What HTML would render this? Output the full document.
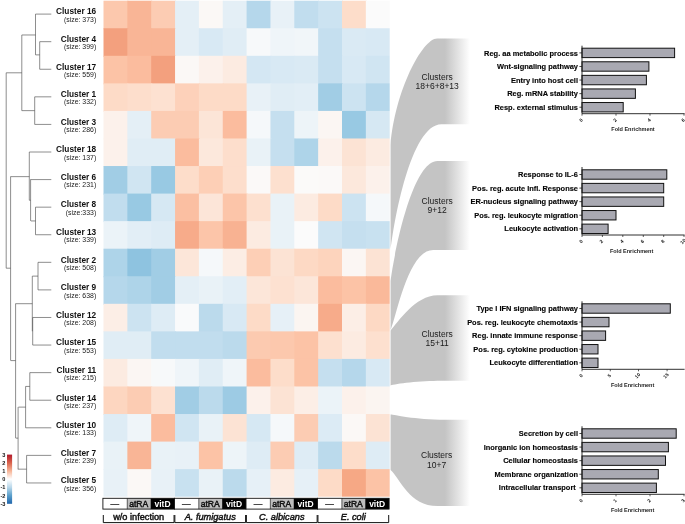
<!DOCTYPE html>
<html><head><meta charset="utf-8"><title>Cluster heatmap</title>
<style>html,body{margin:0;padding:0;background:#fff}body{width:685px;height:524px;overflow:hidden}svg{display:block}text{font-family:"Liberation Sans",Arial,Helvetica,sans-serif}</style></head><body>
<svg width="685" height="524" viewBox="0 0 685 524">
<defs>
<linearGradient id="fade" gradientUnits="userSpaceOnUse" x1="445" y1="0" x2="470" y2="0"><stop offset="0" stop-color="#c4c4c4"/><stop offset="1" stop-color="#ffffff"/></linearGradient>
<linearGradient id="leg" x1="0" y1="0" x2="0" y2="1">
<stop offset="0.0000" stop-color="#b2182b"/>
<stop offset="0.1667" stop-color="#d9634c"/>
<stop offset="0.3333" stop-color="#f7b598"/>
<stop offset="0.5000" stop-color="#ffffff"/>
<stop offset="0.6667" stop-color="#b8d7ea"/>
<stop offset="0.8333" stop-color="#5a9fcb"/>
<stop offset="1.0000" stop-color="#2166ac"/>
</linearGradient>
</defs>
<rect width="685" height="524" fill="#fff"/>
<g>
<rect x="103.50" y="0.70" width="24.85" height="28.56" fill="#fcc8ad"/>
<rect x="127.35" y="0.70" width="24.85" height="28.56" fill="#f9b596"/>
<rect x="151.20" y="0.70" width="24.85" height="28.56" fill="#fcccb3"/>
<rect x="175.05" y="0.70" width="24.85" height="28.56" fill="#e4eff6"/>
<rect x="198.90" y="0.70" width="24.85" height="28.56" fill="#fbf8f6"/>
<rect x="222.75" y="0.70" width="24.85" height="28.56" fill="#e4eff6"/>
<rect x="246.60" y="0.70" width="24.85" height="28.56" fill="#b5d7eb"/>
<rect x="270.45" y="0.70" width="24.85" height="28.56" fill="#e8f1f7"/>
<rect x="294.30" y="0.70" width="24.85" height="28.56" fill="#c1ddee"/>
<rect x="318.15" y="0.70" width="24.85" height="28.56" fill="#cce3f1"/>
<rect x="342.00" y="0.70" width="24.85" height="28.56" fill="#fdddca"/>
<rect x="365.85" y="0.70" width="24.85" height="28.56" fill="#fbfbfb"/>
<rect x="103.50" y="28.26" width="24.85" height="28.56" fill="#f3a07e"/>
<rect x="127.35" y="28.26" width="24.85" height="28.56" fill="#f9b596"/>
<rect x="151.20" y="28.26" width="24.85" height="28.56" fill="#f9b596"/>
<rect x="175.05" y="28.26" width="24.85" height="28.56" fill="#e4eff6"/>
<rect x="198.90" y="28.26" width="24.85" height="28.56" fill="#d8e9f4"/>
<rect x="222.75" y="28.26" width="24.85" height="28.56" fill="#e0edf5"/>
<rect x="246.60" y="28.26" width="24.85" height="28.56" fill="#f7f9fa"/>
<rect x="270.45" y="28.26" width="24.85" height="28.56" fill="#eff5f9"/>
<rect x="294.30" y="28.26" width="24.85" height="28.56" fill="#f1f6f9"/>
<rect x="318.15" y="28.26" width="24.85" height="28.56" fill="#c5dfef"/>
<rect x="342.00" y="28.26" width="24.85" height="28.56" fill="#daeaf4"/>
<rect x="365.85" y="28.26" width="24.85" height="28.56" fill="#d8e9f4"/>
<rect x="103.50" y="55.81" width="24.85" height="28.56" fill="#fcc3a6"/>
<rect x="127.35" y="55.81" width="24.85" height="28.56" fill="#fbbc9e"/>
<rect x="151.20" y="55.81" width="24.85" height="28.56" fill="#f3a07e"/>
<rect x="175.05" y="55.81" width="24.85" height="28.56" fill="#fbf8f6"/>
<rect x="198.90" y="55.81" width="24.85" height="28.56" fill="#fcf1eb"/>
<rect x="222.75" y="55.81" width="24.85" height="28.56" fill="#fcebe1"/>
<rect x="246.60" y="55.81" width="24.85" height="28.56" fill="#d4e7f3"/>
<rect x="270.45" y="55.81" width="24.85" height="28.56" fill="#d8e9f4"/>
<rect x="294.30" y="55.81" width="24.85" height="28.56" fill="#daeaf4"/>
<rect x="318.15" y="55.81" width="24.85" height="28.56" fill="#c5dfef"/>
<rect x="342.00" y="55.81" width="24.85" height="28.56" fill="#d8e9f4"/>
<rect x="365.85" y="55.81" width="24.85" height="28.56" fill="#d0e5f2"/>
<rect x="103.50" y="83.37" width="24.85" height="28.56" fill="#fddbc7"/>
<rect x="127.35" y="83.37" width="24.85" height="28.56" fill="#fddecc"/>
<rect x="151.20" y="83.37" width="24.85" height="28.56" fill="#fde1d1"/>
<rect x="175.05" y="83.37" width="24.85" height="28.56" fill="#fdd1ba"/>
<rect x="198.90" y="83.37" width="24.85" height="28.56" fill="#fddbc7"/>
<rect x="222.75" y="83.37" width="24.85" height="28.56" fill="#fddbc7"/>
<rect x="246.60" y="83.37" width="24.85" height="28.56" fill="#e8f1f7"/>
<rect x="270.45" y="83.37" width="24.85" height="28.56" fill="#e0edf5"/>
<rect x="294.30" y="83.37" width="24.85" height="28.56" fill="#e2eef6"/>
<rect x="318.15" y="83.37" width="24.85" height="28.56" fill="#a1cde5"/>
<rect x="342.00" y="83.37" width="24.85" height="28.56" fill="#cce3f1"/>
<rect x="365.85" y="83.37" width="24.85" height="28.56" fill="#b5d7eb"/>
<rect x="103.50" y="110.92" width="24.85" height="28.56" fill="#fcf1eb"/>
<rect x="127.35" y="110.92" width="24.85" height="28.56" fill="#e4eff6"/>
<rect x="151.20" y="110.92" width="24.85" height="28.56" fill="#fcccb3"/>
<rect x="175.05" y="110.92" width="24.85" height="28.56" fill="#fcccb3"/>
<rect x="198.90" y="110.92" width="24.85" height="28.56" fill="#fce5d7"/>
<rect x="222.75" y="110.92" width="24.85" height="28.56" fill="#fbbc9e"/>
<rect x="246.60" y="110.92" width="24.85" height="28.56" fill="#f5f8fa"/>
<rect x="270.45" y="110.92" width="24.85" height="28.56" fill="#c5dfef"/>
<rect x="294.30" y="110.92" width="24.85" height="28.56" fill="#edf4f8"/>
<rect x="318.15" y="110.92" width="24.85" height="28.56" fill="#fbf6f3"/>
<rect x="342.00" y="110.92" width="24.85" height="28.56" fill="#98c9e3"/>
<rect x="365.85" y="110.92" width="24.85" height="28.56" fill="#d6e8f3"/>
<rect x="103.50" y="138.48" width="24.85" height="28.56" fill="#fcf1eb"/>
<rect x="127.35" y="138.48" width="24.85" height="28.56" fill="#e0edf5"/>
<rect x="151.20" y="138.48" width="24.85" height="28.56" fill="#e0edf5"/>
<rect x="175.05" y="138.48" width="24.85" height="28.56" fill="#fbbc9e"/>
<rect x="198.90" y="138.48" width="24.85" height="28.56" fill="#fce8dc"/>
<rect x="222.75" y="138.48" width="24.85" height="28.56" fill="#fddecc"/>
<rect x="246.60" y="138.48" width="24.85" height="28.56" fill="#e9f2f7"/>
<rect x="270.45" y="138.48" width="24.85" height="28.56" fill="#c5dfef"/>
<rect x="294.30" y="138.48" width="24.85" height="28.56" fill="#aed4e9"/>
<rect x="318.15" y="138.48" width="24.85" height="28.56" fill="#fcf1eb"/>
<rect x="342.00" y="138.48" width="24.85" height="28.56" fill="#fce3d4"/>
<rect x="365.85" y="138.48" width="24.85" height="28.56" fill="#fcebe1"/>
<rect x="103.50" y="166.03" width="24.85" height="28.56" fill="#a1cde5"/>
<rect x="127.35" y="166.03" width="24.85" height="28.56" fill="#d0e5f2"/>
<rect x="151.20" y="166.03" width="24.85" height="28.56" fill="#98c9e3"/>
<rect x="175.05" y="166.03" width="24.85" height="28.56" fill="#fdddca"/>
<rect x="198.90" y="166.03" width="24.85" height="28.56" fill="#fdcfb6"/>
<rect x="222.75" y="166.03" width="24.85" height="28.56" fill="#fddecc"/>
<rect x="246.60" y="166.03" width="24.85" height="28.56" fill="#fbf9f8"/>
<rect x="270.45" y="166.03" width="24.85" height="28.56" fill="#fde0cf"/>
<rect x="294.30" y="166.03" width="24.85" height="28.56" fill="#fbfaf9"/>
<rect x="318.15" y="166.03" width="24.85" height="28.56" fill="#fbf9f8"/>
<rect x="342.00" y="166.03" width="24.85" height="28.56" fill="#fce8dc"/>
<rect x="365.85" y="166.03" width="24.85" height="28.56" fill="#fcf1eb"/>
<rect x="103.50" y="193.59" width="24.85" height="28.56" fill="#c1ddee"/>
<rect x="127.35" y="193.59" width="24.85" height="28.56" fill="#98c9e3"/>
<rect x="151.20" y="193.59" width="24.85" height="28.56" fill="#d6e8f3"/>
<rect x="175.05" y="193.59" width="24.85" height="28.56" fill="#fbbfa2"/>
<rect x="198.90" y="193.59" width="24.85" height="28.56" fill="#fce5d8"/>
<rect x="222.75" y="193.59" width="24.85" height="28.56" fill="#fcc5a9"/>
<rect x="246.60" y="193.59" width="24.85" height="28.56" fill="#fde0cf"/>
<rect x="270.45" y="193.59" width="24.85" height="28.56" fill="#e9f2f7"/>
<rect x="294.30" y="193.59" width="24.85" height="28.56" fill="#fcebe1"/>
<rect x="318.15" y="193.59" width="24.85" height="28.56" fill="#fddbc7"/>
<rect x="342.00" y="193.59" width="24.85" height="28.56" fill="#cce3f1"/>
<rect x="365.85" y="193.59" width="24.85" height="28.56" fill="#f5f8fa"/>
<rect x="103.50" y="221.14" width="24.85" height="28.56" fill="#ebf3f8"/>
<rect x="127.35" y="221.14" width="24.85" height="28.56" fill="#e2eef6"/>
<rect x="151.20" y="221.14" width="24.85" height="28.56" fill="#deecf5"/>
<rect x="175.05" y="221.14" width="24.85" height="28.56" fill="#f7ab8a"/>
<rect x="198.90" y="221.14" width="24.85" height="28.56" fill="#fcc5a9"/>
<rect x="222.75" y="221.14" width="24.85" height="28.56" fill="#f8b292"/>
<rect x="246.60" y="221.14" width="24.85" height="28.56" fill="#fcebe1"/>
<rect x="270.45" y="221.14" width="24.85" height="28.56" fill="#e9f2f7"/>
<rect x="294.30" y="221.14" width="24.85" height="28.56" fill="#fbfbfb"/>
<rect x="318.15" y="221.14" width="24.85" height="28.56" fill="#d0e5f2"/>
<rect x="342.00" y="221.14" width="24.85" height="28.56" fill="#c5dfef"/>
<rect x="365.85" y="221.14" width="24.85" height="28.56" fill="#c8e1f0"/>
<rect x="103.50" y="248.70" width="24.85" height="28.56" fill="#aed4e9"/>
<rect x="127.35" y="248.70" width="24.85" height="28.56" fill="#8ec3e0"/>
<rect x="151.20" y="248.70" width="24.85" height="28.56" fill="#a1cde5"/>
<rect x="175.05" y="248.70" width="24.85" height="28.56" fill="#fce6d9"/>
<rect x="198.90" y="248.70" width="24.85" height="28.56" fill="#f5f8fa"/>
<rect x="222.75" y="248.70" width="24.85" height="28.56" fill="#fcede4"/>
<rect x="246.60" y="248.70" width="24.85" height="28.56" fill="#fdcfb6"/>
<rect x="270.45" y="248.70" width="24.85" height="28.56" fill="#fce3d4"/>
<rect x="294.30" y="248.70" width="24.85" height="28.56" fill="#fdd9c4"/>
<rect x="318.15" y="248.70" width="24.85" height="28.56" fill="#fdd4bd"/>
<rect x="342.00" y="248.70" width="24.85" height="28.56" fill="#fbf6f3"/>
<rect x="365.85" y="248.70" width="24.85" height="28.56" fill="#fce3d4"/>
<rect x="103.50" y="276.26" width="24.85" height="28.56" fill="#b5d7eb"/>
<rect x="127.35" y="276.26" width="24.85" height="28.56" fill="#aed4e9"/>
<rect x="151.20" y="276.26" width="24.85" height="28.56" fill="#a1cde5"/>
<rect x="175.05" y="276.26" width="24.85" height="28.56" fill="#e4eff6"/>
<rect x="198.90" y="276.26" width="24.85" height="28.56" fill="#e9f2f7"/>
<rect x="222.75" y="276.26" width="24.85" height="28.56" fill="#e2eef6"/>
<rect x="246.60" y="276.26" width="24.85" height="28.56" fill="#fce6d9"/>
<rect x="270.45" y="276.26" width="24.85" height="28.56" fill="#fde1d1"/>
<rect x="294.30" y="276.26" width="24.85" height="28.56" fill="#fce6d9"/>
<rect x="318.15" y="276.26" width="24.85" height="28.56" fill="#fbbc9e"/>
<rect x="342.00" y="276.26" width="24.85" height="28.56" fill="#fcc3a6"/>
<rect x="365.85" y="276.26" width="24.85" height="28.56" fill="#fab99a"/>
<rect x="103.50" y="303.81" width="24.85" height="28.56" fill="#fceee6"/>
<rect x="127.35" y="303.81" width="24.85" height="28.56" fill="#cce3f1"/>
<rect x="151.20" y="303.81" width="24.85" height="28.56" fill="#deecf5"/>
<rect x="175.05" y="303.81" width="24.85" height="28.56" fill="#f9fafb"/>
<rect x="198.90" y="303.81" width="24.85" height="28.56" fill="#bbdaec"/>
<rect x="222.75" y="303.81" width="24.85" height="28.56" fill="#d8e9f4"/>
<rect x="246.60" y="303.81" width="24.85" height="28.56" fill="#fddbc7"/>
<rect x="270.45" y="303.81" width="24.85" height="28.56" fill="#e6f0f7"/>
<rect x="294.30" y="303.81" width="24.85" height="28.56" fill="#fbf5f1"/>
<rect x="318.15" y="303.81" width="24.85" height="28.56" fill="#f7ab8a"/>
<rect x="342.00" y="303.81" width="24.85" height="28.56" fill="#fceee6"/>
<rect x="365.85" y="303.81" width="24.85" height="28.56" fill="#fdd9c4"/>
<rect x="103.50" y="331.37" width="24.85" height="28.56" fill="#e0edf5"/>
<rect x="127.35" y="331.37" width="24.85" height="28.56" fill="#e0edf5"/>
<rect x="151.20" y="331.37" width="24.85" height="28.56" fill="#c1ddee"/>
<rect x="175.05" y="331.37" width="24.85" height="28.56" fill="#c1ddee"/>
<rect x="198.90" y="331.37" width="24.85" height="28.56" fill="#c1ddee"/>
<rect x="222.75" y="331.37" width="24.85" height="28.56" fill="#bbdaec"/>
<rect x="246.60" y="331.37" width="24.85" height="28.56" fill="#fccab0"/>
<rect x="270.45" y="331.37" width="24.85" height="28.56" fill="#fcc8ad"/>
<rect x="294.30" y="331.37" width="24.85" height="28.56" fill="#fcc3a6"/>
<rect x="318.15" y="331.37" width="24.85" height="28.56" fill="#fde0cf"/>
<rect x="342.00" y="331.37" width="24.85" height="28.56" fill="#fcebe1"/>
<rect x="365.85" y="331.37" width="24.85" height="28.56" fill="#fde0cf"/>
<rect x="103.50" y="358.92" width="24.85" height="28.56" fill="#fcebe1"/>
<rect x="127.35" y="358.92" width="24.85" height="28.56" fill="#fbf6f3"/>
<rect x="151.20" y="358.92" width="24.85" height="28.56" fill="#f7f9fa"/>
<rect x="175.05" y="358.92" width="24.85" height="28.56" fill="#eff5f9"/>
<rect x="198.90" y="358.92" width="24.85" height="28.56" fill="#e0edf5"/>
<rect x="222.75" y="358.92" width="24.85" height="28.56" fill="#eff5f9"/>
<rect x="246.60" y="358.92" width="24.85" height="28.56" fill="#fbbc9e"/>
<rect x="270.45" y="358.92" width="24.85" height="28.56" fill="#fdddca"/>
<rect x="294.30" y="358.92" width="24.85" height="28.56" fill="#fcc3a6"/>
<rect x="318.15" y="358.92" width="24.85" height="28.56" fill="#c5dfef"/>
<rect x="342.00" y="358.92" width="24.85" height="28.56" fill="#b5d7eb"/>
<rect x="365.85" y="358.92" width="24.85" height="28.56" fill="#d8e9f4"/>
<rect x="103.50" y="386.48" width="24.85" height="28.56" fill="#fdd6c0"/>
<rect x="127.35" y="386.48" width="24.85" height="28.56" fill="#fcccb3"/>
<rect x="151.20" y="386.48" width="24.85" height="28.56" fill="#fde1d1"/>
<rect x="175.05" y="386.48" width="24.85" height="28.56" fill="#a1cde5"/>
<rect x="198.90" y="386.48" width="24.85" height="28.56" fill="#bbdaec"/>
<rect x="222.75" y="386.48" width="24.85" height="28.56" fill="#9dcbe4"/>
<rect x="246.60" y="386.48" width="24.85" height="28.56" fill="#fcf1eb"/>
<rect x="270.45" y="386.48" width="24.85" height="28.56" fill="#fce3d4"/>
<rect x="294.30" y="386.48" width="24.85" height="28.56" fill="#fceee6"/>
<rect x="318.15" y="386.48" width="24.85" height="28.56" fill="#ebf3f8"/>
<rect x="342.00" y="386.48" width="24.85" height="28.56" fill="#fcf1eb"/>
<rect x="365.85" y="386.48" width="24.85" height="28.56" fill="#fbf5f1"/>
<rect x="103.50" y="414.03" width="24.85" height="28.56" fill="#deecf5"/>
<rect x="127.35" y="414.03" width="24.85" height="28.56" fill="#eff5f9"/>
<rect x="151.20" y="414.03" width="24.85" height="28.56" fill="#fbbc9e"/>
<rect x="175.05" y="414.03" width="24.85" height="28.56" fill="#d0e5f2"/>
<rect x="198.90" y="414.03" width="24.85" height="28.56" fill="#e9f2f7"/>
<rect x="222.75" y="414.03" width="24.85" height="28.56" fill="#fce3d4"/>
<rect x="246.60" y="414.03" width="24.85" height="28.56" fill="#d6e8f3"/>
<rect x="270.45" y="414.03" width="24.85" height="28.56" fill="#f5f8fa"/>
<rect x="294.30" y="414.03" width="24.85" height="28.56" fill="#fcccb3"/>
<rect x="318.15" y="414.03" width="24.85" height="28.56" fill="#dcebf5"/>
<rect x="342.00" y="414.03" width="24.85" height="28.56" fill="#fbf8f6"/>
<rect x="365.85" y="414.03" width="24.85" height="28.56" fill="#fce3d4"/>
<rect x="103.50" y="441.59" width="24.85" height="28.56" fill="#e9f2f7"/>
<rect x="127.35" y="441.59" width="24.85" height="28.56" fill="#f9b596"/>
<rect x="151.20" y="441.59" width="24.85" height="28.56" fill="#e9f2f7"/>
<rect x="175.05" y="441.59" width="24.85" height="28.56" fill="#e8f1f7"/>
<rect x="198.90" y="441.59" width="24.85" height="28.56" fill="#fcc3a6"/>
<rect x="222.75" y="441.59" width="24.85" height="28.56" fill="#edf4f8"/>
<rect x="246.60" y="441.59" width="24.85" height="28.56" fill="#deecf5"/>
<rect x="270.45" y="441.59" width="24.85" height="28.56" fill="#fcccb3"/>
<rect x="294.30" y="441.59" width="24.85" height="28.56" fill="#deecf5"/>
<rect x="318.15" y="441.59" width="24.85" height="28.56" fill="#bbdaec"/>
<rect x="342.00" y="441.59" width="24.85" height="28.56" fill="#fdddca"/>
<rect x="365.85" y="441.59" width="24.85" height="28.56" fill="#deecf5"/>
<rect x="103.50" y="469.14" width="24.85" height="28.56" fill="#e8f1f7"/>
<rect x="127.35" y="469.14" width="24.85" height="28.56" fill="#fbf8f6"/>
<rect x="151.20" y="469.14" width="24.85" height="28.56" fill="#e8f1f7"/>
<rect x="175.05" y="469.14" width="24.85" height="28.56" fill="#c8e1f0"/>
<rect x="198.90" y="469.14" width="24.85" height="28.56" fill="#e9f2f7"/>
<rect x="222.75" y="469.14" width="24.85" height="28.56" fill="#bbdaec"/>
<rect x="246.60" y="469.14" width="24.85" height="28.56" fill="#e6f0f7"/>
<rect x="270.45" y="469.14" width="24.85" height="28.56" fill="#fcebe1"/>
<rect x="294.30" y="469.14" width="24.85" height="28.56" fill="#e6f0f7"/>
<rect x="318.15" y="469.14" width="24.85" height="28.56" fill="#fddbc7"/>
<rect x="342.00" y="469.14" width="24.85" height="28.56" fill="#f6a885"/>
<rect x="365.85" y="469.14" width="24.85" height="28.56" fill="#fcc3a6"/>
</g>
<rect x="389.70" y="0" width="10" height="524" fill="#fff"/>
<rect x="102.50" y="496.70" width="300" height="30" fill="#fff"/>
<text x="96.2" y="14.40" text-anchor="end" font-size="8.3" font-weight="bold" fill="#111">Cluster 16</text>
<text transform="translate(96.2 21.70) scale(1.1 1)" text-anchor="end" font-size="6.3" fill="#1a1a1a">(size: 373)</text>
<text x="96.2" y="41.98" text-anchor="end" font-size="8.3" font-weight="bold" fill="#111">Cluster 4</text>
<text transform="translate(96.2 49.28) scale(1.1 1)" text-anchor="end" font-size="6.3" fill="#1a1a1a">(size: 399)</text>
<text x="96.2" y="69.56" text-anchor="end" font-size="8.3" font-weight="bold" fill="#111">Cluster 17</text>
<text transform="translate(96.2 76.86) scale(1.1 1)" text-anchor="end" font-size="6.3" fill="#1a1a1a">(size: 559)</text>
<text x="96.2" y="97.14" text-anchor="end" font-size="8.3" font-weight="bold" fill="#111">Cluster 1</text>
<text transform="translate(96.2 104.44) scale(1.1 1)" text-anchor="end" font-size="6.3" fill="#1a1a1a">(size: 332)</text>
<text x="96.2" y="124.72" text-anchor="end" font-size="8.3" font-weight="bold" fill="#111">Cluster 3</text>
<text transform="translate(96.2 132.02) scale(1.1 1)" text-anchor="end" font-size="6.3" fill="#1a1a1a">(size: 286)</text>
<text x="96.2" y="152.30" text-anchor="end" font-size="8.3" font-weight="bold" fill="#111">Cluster 18</text>
<text transform="translate(96.2 159.60) scale(1.1 1)" text-anchor="end" font-size="6.3" fill="#1a1a1a">(size: 137)</text>
<text x="96.2" y="179.88" text-anchor="end" font-size="8.3" font-weight="bold" fill="#111">Cluster 6</text>
<text transform="translate(96.2 187.18) scale(1.1 1)" text-anchor="end" font-size="6.3" fill="#1a1a1a">(size: 231)</text>
<text x="96.2" y="207.46" text-anchor="end" font-size="8.3" font-weight="bold" fill="#111">Cluster 8</text>
<text transform="translate(96.2 214.76) scale(1.1 1)" text-anchor="end" font-size="6.3" fill="#1a1a1a">(size:333)</text>
<text x="96.2" y="235.04" text-anchor="end" font-size="8.3" font-weight="bold" fill="#111">Cluster 13</text>
<text transform="translate(96.2 242.34) scale(1.1 1)" text-anchor="end" font-size="6.3" fill="#1a1a1a">(size: 339)</text>
<text x="96.2" y="262.62" text-anchor="end" font-size="8.3" font-weight="bold" fill="#111">Cluster 2</text>
<text transform="translate(96.2 269.92) scale(1.1 1)" text-anchor="end" font-size="6.3" fill="#1a1a1a">(size: 508)</text>
<text x="96.2" y="290.20" text-anchor="end" font-size="8.3" font-weight="bold" fill="#111">Cluster 9</text>
<text transform="translate(96.2 297.50) scale(1.1 1)" text-anchor="end" font-size="6.3" fill="#1a1a1a">(size: 638)</text>
<text x="96.2" y="317.78" text-anchor="end" font-size="8.3" font-weight="bold" fill="#111">Cluster 12</text>
<text transform="translate(96.2 325.08) scale(1.1 1)" text-anchor="end" font-size="6.3" fill="#1a1a1a">(size: 208)</text>
<text x="96.2" y="345.36" text-anchor="end" font-size="8.3" font-weight="bold" fill="#111">Cluster 15</text>
<text transform="translate(96.2 352.66) scale(1.1 1)" text-anchor="end" font-size="6.3" fill="#1a1a1a">(size: 553)</text>
<text x="96.2" y="372.94" text-anchor="end" font-size="8.3" font-weight="bold" fill="#111">Cluster 11</text>
<text transform="translate(96.2 380.24) scale(1.1 1)" text-anchor="end" font-size="6.3" fill="#1a1a1a">(size: 215)</text>
<text x="96.2" y="400.52" text-anchor="end" font-size="8.3" font-weight="bold" fill="#111">Cluster 14</text>
<text transform="translate(96.2 407.82) scale(1.1 1)" text-anchor="end" font-size="6.3" fill="#1a1a1a">(size: 237)</text>
<text x="96.2" y="428.10" text-anchor="end" font-size="8.3" font-weight="bold" fill="#111">Cluster 10</text>
<text transform="translate(96.2 435.40) scale(1.1 1)" text-anchor="end" font-size="6.3" fill="#1a1a1a">(size: 133)</text>
<text x="96.2" y="455.68" text-anchor="end" font-size="8.3" font-weight="bold" fill="#111">Cluster 7</text>
<text transform="translate(96.2 462.98) scale(1.1 1)" text-anchor="end" font-size="6.3" fill="#1a1a1a">(size: 239)</text>
<text x="96.2" y="483.26" text-anchor="end" font-size="8.3" font-weight="bold" fill="#111">Cluster 5</text>
<text transform="translate(96.2 490.56) scale(1.1 1)" text-anchor="end" font-size="6.3" fill="#1a1a1a">(size: 356)</text>
<path d="M35.50 14.10H51.30M39.70 41.68H51.30M39.70 69.26H51.30M39.70 41.68V69.26M35.50 54.87H39.70M35.50 14.10V54.87M21.80 34.98H35.50M34.70 96.84H51.30M34.70 124.42H51.30M34.70 96.84V124.42M21.80 110.63H34.70M21.80 34.98V110.63M6.20 72.81H21.80M29.30 152.00H51.30M30.40 179.58H51.30M35.50 207.16H51.30M35.50 234.74H51.30M35.50 207.16V234.74M30.90 220.95H35.50M30.60 179.58V220.95M29.30 200.26H30.60M29.30 152.00V200.26M10.50 176.63H29.30M38.00 262.32H51.30M38.00 289.90H51.30M38.00 262.32V289.90M32.30 276.11H38.00M32.70 317.48H51.30M32.70 345.06H51.30M32.70 317.48V345.06M32.30 276.11V331.27M15.50 303.69H32.30M29.80 372.64H51.30M29.80 400.22H51.30M29.80 372.64V400.22M25.60 386.43H29.80M25.60 427.80H51.30M25.60 386.43V427.80M18.40 407.12H25.60M26.60 455.38H51.30M26.60 482.96H51.30M26.60 455.38V482.96M17.80 469.17H26.60M18.10 407.12V469.17M15.80 438.14H18.10M15.60 303.69V438.14M10.80 360.60H15.60M10.60 176.63V360.60M6.20 268.20H10.60M6.20 72.81V268.20" fill="none" stroke="#484848" stroke-width="0.62"/>
<rect x="7" y="454.6" width="5.1" height="49.2" fill="url(#leg)"/>
<text x="5.4" y="456.80" text-anchor="end" font-size="5.6" font-weight="bold" fill="#111">3</text>
<text x="5.4" y="464.95" text-anchor="end" font-size="5.6" font-weight="bold" fill="#111">2</text>
<text x="5.4" y="473.10" text-anchor="end" font-size="5.6" font-weight="bold" fill="#111">1</text>
<text x="5.4" y="481.25" text-anchor="end" font-size="5.6" font-weight="bold" fill="#111">0</text>
<text x="5.4" y="489.40" text-anchor="end" font-size="5.6" font-weight="bold" fill="#111">-1</text>
<text x="5.4" y="497.55" text-anchor="end" font-size="5.6" font-weight="bold" fill="#111">-2</text>
<text x="5.4" y="505.70" text-anchor="end" font-size="5.6" font-weight="bold" fill="#111">-3</text>
<rect x="102.90" y="498.3" width="23.85" height="10.8" fill="#fff"/>
<rect x="127.25" y="498.3" width="23.35" height="10.8" fill="#bdbdbd"/>
<rect x="150.60" y="498.3" width="23.85" height="10.8" fill="#000"/>
<rect x="102.90" y="498.3" width="71.55" height="10.8" fill="none" stroke="#111" stroke-width="0.9"/>
<path d="M127.25 498.3v10.8" stroke="#222" stroke-width="0.7"/>
<text x="114.83" y="506.6" text-anchor="middle" font-size="8.6" fill="#222" stroke="#222" stroke-width="0.2">—</text>
<text x="138.68" y="506.9" text-anchor="middle" font-size="8.6" fill="#111" stroke="#111" stroke-width="0.45">atRA</text>
<text x="162.53" y="506.9" text-anchor="middle" font-size="8.5" font-weight="bold" fill="#fff">vitD</text>
<path d="M103.30 515V522.6H174.05V515" fill="none" stroke="#111" stroke-width="1"/>
<rect x="174.45" y="498.3" width="23.85" height="10.8" fill="#fff"/>
<rect x="198.80" y="498.3" width="23.35" height="10.8" fill="#bdbdbd"/>
<rect x="222.15" y="498.3" width="23.85" height="10.8" fill="#000"/>
<rect x="174.45" y="498.3" width="71.55" height="10.8" fill="none" stroke="#111" stroke-width="0.9"/>
<path d="M198.80 498.3v10.8" stroke="#222" stroke-width="0.7"/>
<text x="186.38" y="506.6" text-anchor="middle" font-size="8.6" fill="#222" stroke="#222" stroke-width="0.2">—</text>
<text x="210.22" y="506.9" text-anchor="middle" font-size="8.6" fill="#111" stroke="#111" stroke-width="0.45">atRA</text>
<text x="234.07" y="506.9" text-anchor="middle" font-size="8.5" font-weight="bold" fill="#fff">vitD</text>
<path d="M174.85 515V522.6H245.60V515" fill="none" stroke="#111" stroke-width="1"/>
<rect x="246.00" y="498.3" width="23.85" height="10.8" fill="#fff"/>
<rect x="270.35" y="498.3" width="23.35" height="10.8" fill="#bdbdbd"/>
<rect x="293.70" y="498.3" width="23.85" height="10.8" fill="#000"/>
<rect x="246.00" y="498.3" width="71.55" height="10.8" fill="none" stroke="#111" stroke-width="0.9"/>
<path d="M270.35 498.3v10.8" stroke="#222" stroke-width="0.7"/>
<text x="257.93" y="506.6" text-anchor="middle" font-size="8.6" fill="#222" stroke="#222" stroke-width="0.2">—</text>
<text x="281.77" y="506.9" text-anchor="middle" font-size="8.6" fill="#111" stroke="#111" stroke-width="0.45">atRA</text>
<text x="305.62" y="506.9" text-anchor="middle" font-size="8.5" font-weight="bold" fill="#fff">vitD</text>
<path d="M246.40 515V522.6H317.15V515" fill="none" stroke="#111" stroke-width="1"/>
<rect x="317.55" y="498.3" width="23.85" height="10.8" fill="#fff"/>
<rect x="341.90" y="498.3" width="23.35" height="10.8" fill="#bdbdbd"/>
<rect x="365.25" y="498.3" width="23.85" height="10.8" fill="#000"/>
<rect x="317.55" y="498.3" width="71.55" height="10.8" fill="none" stroke="#111" stroke-width="0.9"/>
<path d="M341.90 498.3v10.8" stroke="#222" stroke-width="0.7"/>
<text x="329.47" y="506.6" text-anchor="middle" font-size="8.6" fill="#222" stroke="#222" stroke-width="0.2">—</text>
<text x="353.32" y="506.9" text-anchor="middle" font-size="8.6" fill="#111" stroke="#111" stroke-width="0.45">atRA</text>
<text x="377.17" y="506.9" text-anchor="middle" font-size="8.5" font-weight="bold" fill="#fff">vitD</text>
<path d="M317.95 515V522.6H388.70V515" fill="none" stroke="#111" stroke-width="1"/>
<text x="138.68" y="520.2" text-anchor="middle" font-size="9.2" fill="#111" stroke="#111" stroke-width="0.45">w/o infection</text>
<text x="210.22" y="520.2" text-anchor="middle" font-size="9.2" font-style="italic" fill="#111" stroke="#111" stroke-width="0.45">A. fumigatus</text>
<text x="281.77" y="520.2" text-anchor="middle" font-size="9.2" font-style="italic" fill="#111" stroke="#111" stroke-width="0.45">C. albicans</text>
<text x="353.32" y="520.2" text-anchor="middle" font-size="9.2" font-style="italic" fill="#111" stroke="#111" stroke-width="0.45">E. coli</text>
<path d="M390.6 145.0C395.0 91.2 422.2 38.4 437.2 38.4H474V124.3H441.4C410.5 124.3 393.4 224.0 390.6 251.0Z" fill="url(#fade)"/>
<path d="M390.6 281.0C393.7 255.9 411.9 161.1 437.4 161.1H474V250.0H433.2C408.4 250.0 397.1 314.1 390.6 330.0Z" fill="url(#fade)"/>
<path d="M390.6 330.5C397.6 322.8 415.2 295.3 437.5 295.3H474V380.8H441.5C420.4 380.8 395.1 383.8 390.6 385.5Z" fill="url(#fade)"/>
<path d="M390.6 414.4C394.1 414.4 414.2 419.7 445.3 419.7H474V506.0H437.6C409.2 506.0 400.1 478.7 390.6 469.9Z" fill="url(#fade)"/>
<text x="437.2" y="80.0" text-anchor="middle" font-size="8.5" fill="#1a1a1a">Clusters</text>
<text x="437.2" y="89.2" text-anchor="middle" font-size="8.5" fill="#1a1a1a">18+6+8+13</text>
<text x="437.2" y="204.2" text-anchor="middle" font-size="8.5" fill="#1a1a1a">Clusters</text>
<text x="437.2" y="213.4" text-anchor="middle" font-size="8.5" fill="#1a1a1a">9+12</text>
<text x="437.2" y="336.5" text-anchor="middle" font-size="8.5" fill="#1a1a1a">Clusters</text>
<text x="437.2" y="345.7" text-anchor="middle" font-size="8.5" fill="#1a1a1a">15+11</text>
<text x="436.6" y="458.4" text-anchor="middle" font-size="8.5" fill="#1a1a1a">Clusters</text>
<text x="436.6" y="467.6" text-anchor="middle" font-size="8.5" fill="#1a1a1a">10+7</text>
<rect x="582.00" y="48.20" width="92.60" height="9.40" fill="#a9a9b2" stroke="#111" stroke-width="1"/>
<path d="M579.40 52.90H582.00" stroke="#1a1a1a" stroke-width="0.8"/>
<text transform="translate(578.00 55.50) scale(1.065 1)" text-anchor="end" font-size="7" font-weight="bold" fill="#050505" stroke="#050505" stroke-width="0.12">Reg. aa metabolic process</text>
<rect x="582.00" y="61.78" width="66.90" height="9.40" fill="#a9a9b2" stroke="#111" stroke-width="1"/>
<path d="M579.40 66.48H582.00" stroke="#1a1a1a" stroke-width="0.8"/>
<text transform="translate(578.00 69.08) scale(1.065 1)" text-anchor="end" font-size="7" font-weight="bold" fill="#050505" stroke="#050505" stroke-width="0.12">Wnt-signaling pathway</text>
<rect x="582.00" y="75.36" width="64.40" height="9.40" fill="#a9a9b2" stroke="#111" stroke-width="1"/>
<path d="M579.40 80.06H582.00" stroke="#1a1a1a" stroke-width="0.8"/>
<text transform="translate(578.00 82.66) scale(1.065 1)" text-anchor="end" font-size="7" font-weight="bold" fill="#050505" stroke="#050505" stroke-width="0.12">Entry into host cell</text>
<rect x="582.00" y="88.94" width="53.40" height="9.40" fill="#a9a9b2" stroke="#111" stroke-width="1"/>
<path d="M579.40 93.64H582.00" stroke="#1a1a1a" stroke-width="0.8"/>
<text transform="translate(578.00 96.24) scale(1.065 1)" text-anchor="end" font-size="7" font-weight="bold" fill="#050505" stroke="#050505" stroke-width="0.12">Reg. mRNA stability</text>
<rect x="582.00" y="102.52" width="41.20" height="9.40" fill="#a9a9b2" stroke="#111" stroke-width="1"/>
<path d="M579.40 107.22H582.00" stroke="#1a1a1a" stroke-width="0.8"/>
<text transform="translate(578.00 109.82) scale(1.065 1)" text-anchor="end" font-size="7" font-weight="bold" fill="#050505" stroke="#050505" stroke-width="0.12">Resp. external stimulus</text>
<path d="M582.00 45.70V113.70H684.6" fill="none" stroke="#1a1a1a" stroke-width="0.9"/>
<path d="M582.00 113.70v2" stroke="#1a1a1a" stroke-width="0.7"/>
<text transform="translate(581.00 120.10) rotate(-45)" text-anchor="middle" y="1.6" font-size="4.8" font-weight="bold" fill="#111">0</text>
<path d="M616.00 113.70v2" stroke="#1a1a1a" stroke-width="0.7"/>
<text transform="translate(615.00 120.10) rotate(-45)" text-anchor="middle" y="1.6" font-size="4.8" font-weight="bold" fill="#111">2</text>
<path d="M650.00 113.70v2" stroke="#1a1a1a" stroke-width="0.7"/>
<text transform="translate(649.00 120.10) rotate(-45)" text-anchor="middle" y="1.6" font-size="4.8" font-weight="bold" fill="#111">4</text>
<path d="M684.00 113.70v2" stroke="#1a1a1a" stroke-width="0.7"/>
<text transform="translate(683.00 120.10) rotate(-45)" text-anchor="middle" y="1.6" font-size="4.8" font-weight="bold" fill="#111">6</text>
<text x="633.00" y="131.00" text-anchor="middle" font-size="5.5" font-weight="bold" fill="#222">Fold Enrichment</text>
<rect x="582.00" y="169.80" width="84.80" height="9.40" fill="#a9a9b2" stroke="#111" stroke-width="1"/>
<path d="M579.40 174.50H582.00" stroke="#1a1a1a" stroke-width="0.8"/>
<text transform="translate(578.00 177.10) scale(1.065 1)" text-anchor="end" font-size="7" font-weight="bold" fill="#050505" stroke="#050505" stroke-width="0.12">Response to IL-6</text>
<rect x="582.00" y="183.38" width="81.70" height="9.40" fill="#a9a9b2" stroke="#111" stroke-width="1"/>
<path d="M579.40 188.08H582.00" stroke="#1a1a1a" stroke-width="0.8"/>
<text transform="translate(578.00 190.68) scale(1.065 1)" text-anchor="end" font-size="7" font-weight="bold" fill="#050505" stroke="#050505" stroke-width="0.12">Pos. reg. acute Infl. Response</text>
<rect x="582.00" y="196.96" width="81.70" height="9.40" fill="#a9a9b2" stroke="#111" stroke-width="1"/>
<path d="M579.40 201.66H582.00" stroke="#1a1a1a" stroke-width="0.8"/>
<text transform="translate(578.00 204.26) scale(1.065 1)" text-anchor="end" font-size="7" font-weight="bold" fill="#050505" stroke="#050505" stroke-width="0.12">ER-nucleus signaling pathway</text>
<rect x="582.00" y="210.54" width="34.00" height="9.40" fill="#a9a9b2" stroke="#111" stroke-width="1"/>
<path d="M579.40 215.24H582.00" stroke="#1a1a1a" stroke-width="0.8"/>
<text transform="translate(578.00 217.84) scale(1.065 1)" text-anchor="end" font-size="7" font-weight="bold" fill="#050505" stroke="#050505" stroke-width="0.12">Pos. reg. leukocyte migration</text>
<rect x="582.00" y="224.12" width="26.10" height="9.40" fill="#a9a9b2" stroke="#111" stroke-width="1"/>
<path d="M579.40 228.82H582.00" stroke="#1a1a1a" stroke-width="0.8"/>
<text transform="translate(578.00 231.42) scale(1.065 1)" text-anchor="end" font-size="7" font-weight="bold" fill="#050505" stroke="#050505" stroke-width="0.12">Leukocyte activation</text>
<path d="M582.00 167.00V235.00H684.6" fill="none" stroke="#1a1a1a" stroke-width="0.9"/>
<path d="M582.00 235.00v2" stroke="#1a1a1a" stroke-width="0.7"/>
<text transform="translate(581.00 241.40) rotate(-45)" text-anchor="middle" y="1.6" font-size="4.8" font-weight="bold" fill="#111">0</text>
<path d="M602.40 235.00v2" stroke="#1a1a1a" stroke-width="0.7"/>
<text transform="translate(601.40 241.40) rotate(-45)" text-anchor="middle" y="1.6" font-size="4.8" font-weight="bold" fill="#111">2</text>
<path d="M622.80 235.00v2" stroke="#1a1a1a" stroke-width="0.7"/>
<text transform="translate(621.80 241.40) rotate(-45)" text-anchor="middle" y="1.6" font-size="4.8" font-weight="bold" fill="#111">4</text>
<path d="M643.30 235.00v2" stroke="#1a1a1a" stroke-width="0.7"/>
<text transform="translate(642.30 241.40) rotate(-45)" text-anchor="middle" y="1.6" font-size="4.8" font-weight="bold" fill="#111">6</text>
<path d="M663.70 235.00v2" stroke="#1a1a1a" stroke-width="0.7"/>
<text transform="translate(662.70 241.40) rotate(-45)" text-anchor="middle" y="1.6" font-size="4.8" font-weight="bold" fill="#111">8</text>
<path d="M684.00 235.00v2" stroke="#1a1a1a" stroke-width="0.7"/>
<text transform="translate(683.00 241.40) rotate(-45)" text-anchor="middle" y="1.6" font-size="4.8" font-weight="bold" fill="#111">10</text>
<text x="631.60" y="252.70" text-anchor="middle" font-size="5.5" font-weight="bold" fill="#222">Fold Enrichment</text>
<rect x="582.00" y="303.80" width="88.30" height="9.40" fill="#a9a9b2" stroke="#111" stroke-width="1"/>
<path d="M579.40 308.50H582.00" stroke="#1a1a1a" stroke-width="0.8"/>
<text transform="translate(578.00 311.10) scale(1.065 1)" text-anchor="end" font-size="7" font-weight="bold" fill="#050505" stroke="#050505" stroke-width="0.12">Type I IFN signaling pathway</text>
<rect x="582.00" y="317.38" width="27.00" height="9.40" fill="#a9a9b2" stroke="#111" stroke-width="1"/>
<path d="M579.40 322.08H582.00" stroke="#1a1a1a" stroke-width="0.8"/>
<text transform="translate(578.00 324.68) scale(1.065 1)" text-anchor="end" font-size="7" font-weight="bold" fill="#050505" stroke="#050505" stroke-width="0.12">Pos. reg. leukocyte chemotaxis</text>
<rect x="582.00" y="330.96" width="23.60" height="9.40" fill="#a9a9b2" stroke="#111" stroke-width="1"/>
<path d="M579.40 335.66H582.00" stroke="#1a1a1a" stroke-width="0.8"/>
<text transform="translate(578.00 338.26) scale(1.065 1)" text-anchor="end" font-size="7" font-weight="bold" fill="#050505" stroke="#050505" stroke-width="0.12">Reg. innate immune response</text>
<rect x="582.00" y="344.54" width="16.00" height="9.40" fill="#a9a9b2" stroke="#111" stroke-width="1"/>
<path d="M579.40 349.24H582.00" stroke="#1a1a1a" stroke-width="0.8"/>
<text transform="translate(578.00 351.84) scale(1.065 1)" text-anchor="end" font-size="7" font-weight="bold" fill="#050505" stroke="#050505" stroke-width="0.12">Pos. reg. cytokine production</text>
<rect x="582.00" y="358.12" width="16.00" height="9.40" fill="#a9a9b2" stroke="#111" stroke-width="1"/>
<path d="M579.40 362.82H582.00" stroke="#1a1a1a" stroke-width="0.8"/>
<text transform="translate(578.00 365.42) scale(1.065 1)" text-anchor="end" font-size="7" font-weight="bold" fill="#050505" stroke="#050505" stroke-width="0.12">Leukocyte differentiation</text>
<path d="M582.00 301.30V369.30H684.6" fill="none" stroke="#1a1a1a" stroke-width="0.9"/>
<path d="M582.00 369.30v2" stroke="#1a1a1a" stroke-width="0.7"/>
<text transform="translate(581.00 375.70) rotate(-45)" text-anchor="middle" y="1.6" font-size="4.8" font-weight="bold" fill="#111">0</text>
<path d="M610.30 369.30v2" stroke="#1a1a1a" stroke-width="0.7"/>
<text transform="translate(609.30 375.70) rotate(-45)" text-anchor="middle" y="1.6" font-size="4.8" font-weight="bold" fill="#111">5</text>
<path d="M638.50 369.30v2" stroke="#1a1a1a" stroke-width="0.7"/>
<text transform="translate(637.50 375.70) rotate(-45)" text-anchor="middle" y="1.6" font-size="4.8" font-weight="bold" fill="#111">10</text>
<path d="M667.10 369.30v2" stroke="#1a1a1a" stroke-width="0.7"/>
<text transform="translate(666.10 375.70) rotate(-45)" text-anchor="middle" y="1.6" font-size="4.8" font-weight="bold" fill="#111">15</text>
<text x="632.60" y="386.60" text-anchor="middle" font-size="5.5" font-weight="bold" fill="#222">Fold Enrichment</text>
<rect x="582.00" y="428.80" width="94.20" height="9.40" fill="#a9a9b2" stroke="#111" stroke-width="1"/>
<path d="M579.40 433.50H582.00" stroke="#1a1a1a" stroke-width="0.8"/>
<text transform="translate(578.00 436.10) scale(1.065 1)" text-anchor="end" font-size="7" font-weight="bold" fill="#050505" stroke="#050505" stroke-width="0.12">Secretion by cell</text>
<rect x="582.00" y="442.38" width="86.40" height="9.40" fill="#a9a9b2" stroke="#111" stroke-width="1"/>
<path d="M579.40 447.08H582.00" stroke="#1a1a1a" stroke-width="0.8"/>
<text transform="translate(578.00 449.68) scale(1.065 1)" text-anchor="end" font-size="7" font-weight="bold" fill="#050505" stroke="#050505" stroke-width="0.12">Inorganic ion homeostasis</text>
<rect x="582.00" y="455.96" width="83.50" height="9.40" fill="#a9a9b2" stroke="#111" stroke-width="1"/>
<path d="M579.40 460.66H582.00" stroke="#1a1a1a" stroke-width="0.8"/>
<text transform="translate(578.00 463.26) scale(1.065 1)" text-anchor="end" font-size="7" font-weight="bold" fill="#050505" stroke="#050505" stroke-width="0.12">Cellular homeostasis</text>
<rect x="582.00" y="469.54" width="76.30" height="9.40" fill="#a9a9b2" stroke="#111" stroke-width="1"/>
<path d="M579.40 474.24H582.00" stroke="#1a1a1a" stroke-width="0.8"/>
<text transform="translate(578.00 476.84) scale(1.065 1)" text-anchor="end" font-size="7" font-weight="bold" fill="#050505" stroke="#050505" stroke-width="0.12">Membrane organization</text>
<rect x="582.00" y="483.12" width="74.40" height="9.40" fill="#a9a9b2" stroke="#111" stroke-width="1"/>
<path d="M579.40 487.82H582.00" stroke="#1a1a1a" stroke-width="0.8"/>
<text transform="translate(575.80 490.42) scale(1.065 1)" text-anchor="end" font-size="7" font-weight="bold" fill="#050505" stroke="#050505" stroke-width="0.12">Intracellular transport</text>
<path d="M582.00 426.30V494.30H684.6" fill="none" stroke="#1a1a1a" stroke-width="0.9"/>
<path d="M582.00 494.30v2" stroke="#1a1a1a" stroke-width="0.7"/>
<text transform="translate(581.00 500.70) rotate(-45)" text-anchor="middle" y="1.6" font-size="4.8" font-weight="bold" fill="#111">0</text>
<path d="M616.00 494.30v2" stroke="#1a1a1a" stroke-width="0.7"/>
<text transform="translate(615.00 500.70) rotate(-45)" text-anchor="middle" y="1.6" font-size="4.8" font-weight="bold" fill="#111">1</text>
<path d="M650.00 494.30v2" stroke="#1a1a1a" stroke-width="0.7"/>
<text transform="translate(649.00 500.70) rotate(-45)" text-anchor="middle" y="1.6" font-size="4.8" font-weight="bold" fill="#111">2</text>
<path d="M684.00 494.30v2" stroke="#1a1a1a" stroke-width="0.7"/>
<text transform="translate(683.00 500.70) rotate(-45)" text-anchor="middle" y="1.6" font-size="4.8" font-weight="bold" fill="#111">3</text>
<text x="632.60" y="511.60" text-anchor="middle" font-size="5.5" font-weight="bold" fill="#222">Fold Enrichment</text>
</svg></body></html>
